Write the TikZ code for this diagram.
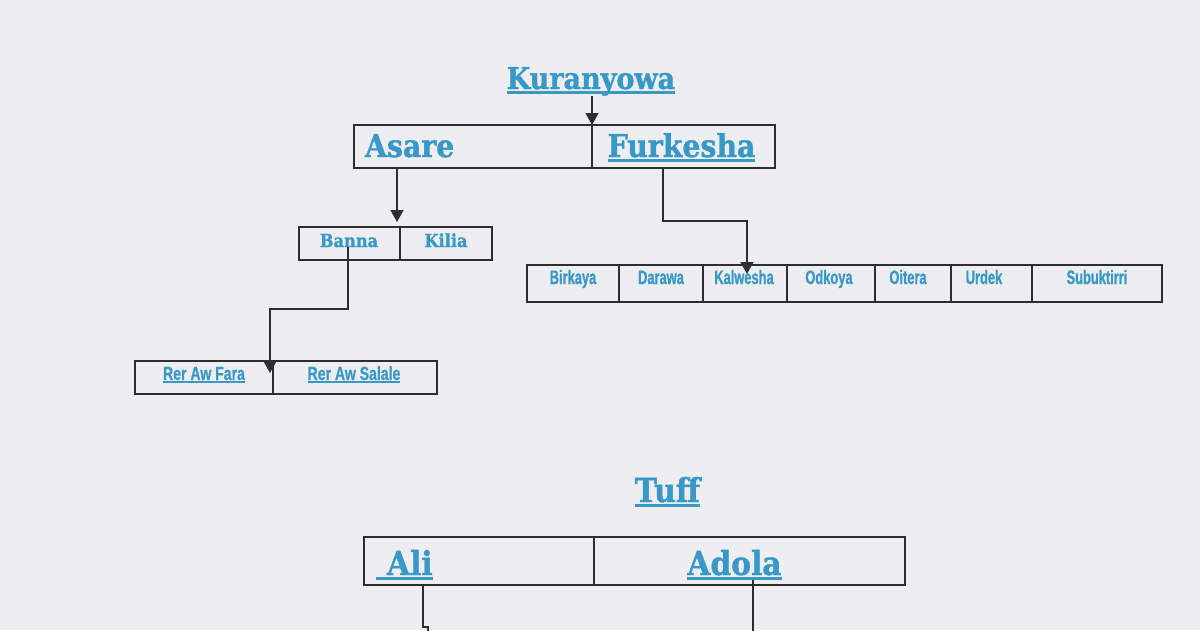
\documentclass[tikz,border=0pt]{standalone}
\usepackage{fontspec}
\usetikzlibrary{arrows.meta}
\newfontfamily\camb[FakeStretch=0.9,FakeBold=1.2]{DejaVu Serif}
\newfontfamily\cond[FakeStretch=0.66,FakeBold=0.8]{Liberation Sans}
\newfontfamily\condb[FakeStretch=0.74,FakeBold=0.8]{Liberation Sans}
\definecolor{tblue}{RGB}{56,152,200}
\definecolor{bgc}{RGB}{238,238,240}
\definecolor{lnc}{RGB}{45,45,50}
\newcommand\myul[1]{\leavevmode\setbox0\hbox{#1}\rlap{\vrule width\wd0 height -0.07em depth 0.16em}\box0}
\newcommand\cellnode[5]{\node[cellbox, minimum width={(#4-#2)*1pt}, minimum height={(#5-#3)*1pt}] (#1) at ({(#2+#4)/2},{(#3+#5)/2}) {};}
\tikzset{
  cellbox/.style={draw=lnc, line width=1.2pt, inner sep=0pt, outer sep=0pt},
  lbl/.style={inner sep=0pt, outer sep=0pt, text=tblue, anchor=base},
  big/.style={lbl, font=\camb\bfseries\fontsize{31.5}{36}\selectfont},
  mid/.style={lbl, font=\camb\bfseries\fontsize{18}{22}\selectfont},
  sm/.style={lbl, font=\cond\bfseries\fontsize{19.5}{22}\selectfont},
  smu/.style={lbl, font=\condb\bfseries\fontsize{19}{22}\selectfont},
  conn/.style={draw=lnc, line width=1.6pt},
  arr/.style={conn, -{Triangle[length=12pt,width=13pt]}}
}
\begin{document}
\begin{tikzpicture}[x=1pt,y=-1pt]
\fill[bgc] (0,0) rectangle (1200,630);
\useasboundingbox (0,0) rectangle (1200,630);

% ---------- Kuranyowa tree ----------
\node[big, font=\camb\bfseries\fontsize{30}{34}\selectfont] (kur) at (591,89) {\myul{Kuranyowa}};
\cellnode{asareC}{354}{125}{592}{168}
\cellnode{furkC}{592}{125}{775}{168}
\node[big, anchor=base west] (asare) at (365,157) {Asare};
\node[big] (furk) at (681.5,157) {\myul{Furkesha}};

\cellnode{bannaC}{299}{227}{400}{260}
\cellnode{kiliaC}{400}{227}{492}{260}
\node[mid] (banna) at (349,247) {Banna};
\node[mid] (kilia) at (446,247) {Kilia};

\cellnode{birC}{527}{265}{619}{302}
\cellnode{darC}{619}{265}{703}{302}
\cellnode{kalC}{703}{265}{787}{302}
\cellnode{odkC}{787}{265}{875}{302}
\cellnode{oitC}{875}{265}{951}{302}
\cellnode{urdC}{951}{265}{1032}{302}
\cellnode{subC}{1032}{265}{1162}{302}
\node[sm] (bir) at (573,284) {Birkaya};
\node[sm] (dar) at (661,284) {Darawa};
\node[sm] (kal) at (744,284) {Kalwesha};
\node[sm] (odk) at (829,284) {Odkoya};
\node[sm] (oit) at (908,284) {Oitera};
\node[sm] (urd) at (984,284) {Urdek};
\node[sm] (sub) at (1097,284) {Subuktirri};

\cellnode{faraC}{135}{361}{273}{394}
\cellnode{salaC}{273}{361}{437}{394}
\node[smu] (fara) at (204,380) {\myul{Rer Aw Fara}};
\node[smu] (sala) at (354,380) {\myul{Rer Aw Salale}};

% connectors
\draw[arr] (kur.south -| asareC.north east) -- (asareC.north east);
\coordinate (asTip) at (397,222);
\draw[arr] (asareC.south -| asTip) -- (asTip);
\coordinate (fkTurn) at (663,221);
\coordinate (fkTip) at (747,274);
\draw[arr] (furkC.south -| fkTurn) -- (fkTurn) -| (fkTip);
\coordinate (bnTurn) at (348,309);
\coordinate (bnTip) at (270,373);
\draw[arr] (banna.base -| bnTurn) -- (bnTurn) -| (bnTip);

% ---------- Tuff tree ----------
\node[big, font=\camb\bfseries\fontsize{33}{38}\selectfont] (tuff) at (667.5,502) {\myul{Tuff}};
\cellnode{aliC}{364}{537}{594}{585}
\cellnode{adolaC}{594}{537}{905}{585}
\node[big, anchor=base west, font=\camb\bfseries\fontsize{33}{38}\selectfont] (ali) at (376,575) {\myul{\kern11pt Ali}};
\node[big, font=\camb\bfseries\fontsize{33}{38}\selectfont] (adola) at (734.5,575) {\myul{Adola}};

\coordinate (alJog) at (423,627);
\coordinate (alEnd) at (428,632);
\draw[conn] (aliC.south -| alJog) -- (alJog) -| (alEnd);
\coordinate (adTop) at (753,580);
\coordinate (adEnd) at (753,632);
\draw[conn] (adTop) -- (adEnd);
\end{tikzpicture}
\end{document}
